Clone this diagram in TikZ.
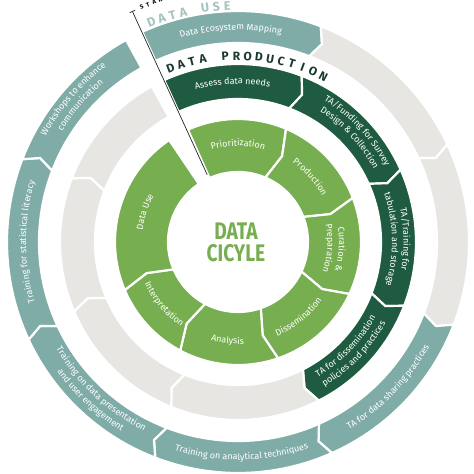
\documentclass[tikz,border=0pt]{standalone}
\usepackage{fontspec}
\setmainfont{Fira Sans}
\newfontfamily\segfont{Fira Sans}
\usetikzlibrary{decorations.text,arrows.meta}
\definecolor{cTeal}{HTML}{80ACA8}
\definecolor{cGray}{HTML}{E8E6E3}
\definecolor{cDark}{HTML}{1E5B40}
\definecolor{cGreen}{HTML}{77AE50}
\definecolor{cUse}{HTML}{A3C4C0}
\definecolor{cProd}{HTML}{1B3A2C}
% #1 inner r, #2 outer r, #3 start angle, #4 end angle, #5 notch depth, #6 tip depth, #7 colour
\newcommand{\seg}[7]{%
  \pgfmathsetmacro{\segrm}{(#1+#2)/2}%
  \pgfmathsetmacro{\segtip}{#4-#6}%
  \pgfmathsetmacro{\segnotch}{#3-#5}%
  \filldraw[fill=#7, segline]
    (#3:#2pt) arc[start angle=#3, end angle=#4, radius=#2pt]
    -- (\segtip:\segrm pt) -- (#4:#1pt)
    arc[start angle=#4, end angle=#3, radius=#1pt]
    -- (\segnotch:\segrm pt) -- cycle;}
% clockwise text (tops outward): #1 baseline radius, #2 centre angle, #3 text
\newcommand{\cwtext}[3]{%
  \pgfmathsetmacro{\txa}{#2+50}\pgfmathsetmacro{\txb}{#2-50}%
  \path[decorate,decoration={text along path, text align=center, text color=white,
    text={|\segfont\fontsize{9}{10}\selectfont|#3}}]
    (\txa:#1pt) arc[start angle=\txa, end angle=\txb, radius=#1pt];}
% counter-clockwise text (tops inward)
\newcommand{\ccwtext}[3]{%
  \pgfmathsetmacro{\txa}{#2-50}\pgfmathsetmacro{\txb}{#2+50}%
  \path[decorate,decoration={text along path, text align=center, text color=white,
    text={|\segfont\fontsize{9}{10}\selectfont|#3}}]
    (\txa:#1pt) arc[start angle=\txa, end angle=\txb, radius=#1pt];}
\tikzset{
  segline/.style={draw=white, line width=2.2pt, line join=miter},
  prodletter/.style={anchor=base, inner sep=0pt, text=cProd, font=\segfont\bfseries\fontsize{12}{12}\selectfont},
  useletter/.style={anchor=base, inner sep=0pt, text=cUse, font=\segfont\bfseries\fontsize{12.5}{12.5}\selectfont},
  startletter/.style={anchor=base, inner sep=0pt, text=black, font=\segfont\bfseries\fontsize{6}{6}\selectfont},
  titletext/.style={text=cGreen, align=center, font=\segfont\bfseries\fontsize{24}{22}\selectfont},
  startline/.style={draw=black!85, line width=0.7pt, {Bar[width=6pt]}-}
}
\begin{document}
\begin{tikzpicture}
\useasboundingbox (-238pt,-232pt) rectangle (236pt,242pt);
\fill[white] (-238pt,-232pt) rectangle (236pt,242pt);
% outer ring: data use
\seg{199}{231}{114.5}{69}{0}{2}{cTeal}
\seg{199}{231}{69}{25}{2}{2}{cGray}
\seg{199}{231}{25}{-21}{2}{2}{cGray}
\seg{199}{231}{-21}{-66}{2}{2}{cTeal}
\seg{199}{231}{-66}{-111}{2}{2}{cTeal}
\seg{199}{231}{-111}{-155}{2}{2}{cTeal}
\seg{199}{231}{-155}{-201}{2}{2}{cTeal}
\seg{199}{231}{-201}{-241}{2}{0}{cTeal}
% middle ring: data production
\seg{143}{178}{114.5}{69}{0}{2.5}{cDark}
\seg{143}{178}{69}{24}{2.5}{2.5}{cDark}
\seg{143}{178}{24}{-21}{2.5}{2.5}{cDark}
\seg{143}{178}{-21}{-63}{2.5}{2.5}{cDark}
\seg{143}{178}{-63}{-112}{2.5}{2.5}{cGray}
\seg{143}{178}{-112}{-157}{2.5}{2.5}{cGray}
\seg{143}{178}{-157}{-201}{2.5}{2.5}{cGray}
\seg{143}{178}{-201}{-241}{2.5}{0}{cGray}
% inner ring: data cycle
\seg{70}{123}{114}{67}{0}{4.2}{cGreen}
\seg{70}{123}{67}{21}{4.2}{4.2}{cGreen}
\seg{70}{123}{21}{-25}{4.2}{4.2}{cGreen}
\seg{70}{123}{-25}{-71}{4.2}{4.2}{cGreen}
\seg{70}{123}{-71}{-118}{4.2}{4.2}{cGreen}
\seg{70}{123}{-118}{-157}{4.2}{4.2}{cGreen}
\seg{70}{123}{-157}{-236}{4.2}{0}{cGreen}
% start line
\coordinate (startout) at (114.6:254pt);
\coordinate (startin) at (114.6:74pt);
\draw[startline] (startout) -- (startin);
% ring titles
\foreach \i/\ch in {0/S,1/T,2/A,3/R,4/T}{
  \pgfmathsetmacro{\lang}{112.3-\i*1.5}
  \node[startletter, rotate=\lang-90] (st\i) at (\lang:252pt) {\ch};}
\foreach \i/\ch in {0/D,1/A,2/T,3/A,5/U,6/S,7/E}{
  \pgfmathsetmacro{\lang}{111.5-\i*2.7}
  \node[useletter, rotate=\lang-90] (du\i) at (\lang:232pt) {\ch};}
\foreach \i/\ch in {0/D,1/A,2/T,3/A,5/P,6/R,7/O,8/D,9/U,10/C,11/T,12/I,13/O,14/N}{
  \pgfmathsetmacro{\lang}{111.3-\i*3.47}
  \node[prodletter, rotate=\lang-90] (dp\i) at (\lang:182pt) {\ch};}
% outer ring texts
\cwtext{212}{92}{Data Ecosystem Mapping}
\cwtext{219.5}{139}{Workshops to enhance}
\cwtext{208}{139}{communication}
\cwtext{212}{180}{Training for statistical literacy}
\ccwtext{211}{-133}{Training on data presentation}
\ccwtext{222.5}{-133}{and user engagement}
\ccwtext{218}{-89}{Training on analytical techniques}
\ccwtext{218}{-44}{TA for data sharing practices}
% middle ring texts
\cwtext{158}{92}{Assess data needs}
\cwtext{165.5}{43}{TA/Funding for Survey}
\cwtext{154}{43}{Design {\&} Collection}
\cwtext{165.5}{1}{TA/Training for}
\cwtext{154}{1}{tabulation and storage}
\ccwtext{157}{-44}{TA for dissemination}
\ccwtext{168.5}{-44}{policies and practices}
% inner ring texts
\cwtext{96}{90}{Prioritization}
\cwtext{96}{42}{Production}
\cwtext{101}{-4}{Curation {\&}}
\cwtext{89.5}{-4}{Preparation}
\ccwtext{102}{-51}{Dissemination}
\ccwtext{102}{-96}{Analysis}
\ccwtext{102}{-140}{Interpretation}
\cwtext{96}{162}{Data Use}
% centre
\node[titletext] (title) at (-2pt,0pt) {\scalebox{0.8}[1]{DATA}\\\scalebox{0.8}[1]{CICYLE}};
\end{tikzpicture}
\end{document}
